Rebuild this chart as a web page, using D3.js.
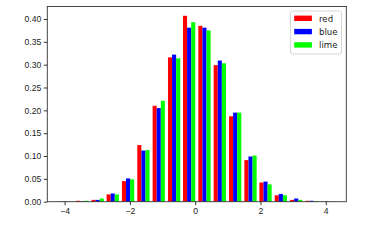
<!DOCTYPE html>
<html>
<head>
<meta charset="utf-8">
<script src="https://cdn.jsdelivr.net/npm/d3@7"></script>
<style>
  body { margin: 0; background: #fff; }
  svg { display: block; font-family: "DejaVu Sans", sans-serif; }
  .tick text { font-size: 8.6px; fill: #222; }
  .tick line { stroke: #333; }
</style>
</head>
<body>
<div id="chart"></div>
<script>
// bin edges (18 bins)
const binEdges = [-4.16, -3.69, -3.22, -2.76, -2.29, -1.82, -1.35, -0.88, -0.42, 0.05,
                  0.52, 0.99, 1.46, 1.92, 2.39, 2.86, 3.33, 3.80, 4.26];
const seriesNames = ["red", "blue", "lime"];
const seriesColors = ["#ff0000", "#0000ff", "#00ff00"];
const redValues  = [0.001, 0.002, 0.004, 0.016, 0.045, 0.124, 0.210, 0.316, 0.407, 0.385, 0.299, 0.187, 0.091, 0.042, 0.014, 0.004, 0.002, 0.0005];
const blueValues = [0.0005, 0.001, 0.004, 0.018, 0.051, 0.112, 0.205, 0.322, 0.381, 0.381, 0.309, 0.195, 0.099, 0.044, 0.017, 0.007, 0.002, 0.0005];
const limeValues = [0.0005, 0.002, 0.007, 0.016, 0.049, 0.113, 0.221, 0.314, 0.393, 0.375, 0.303, 0.195, 0.101, 0.038, 0.014, 0.004, 0.0015, 0.0005];
const xTicks = [-4, -2, 0, 2, 4];
const yTicks = [0, 0.05, 0.10, 0.15, 0.20, 0.25, 0.30, 0.35, 0.40];

const width = 376, height = 243;
const margin = { left: 47.3, right: 346.3, top: 6.5, bottom: 201.7 };

const svg = d3.select("#chart").append("svg").attr("width", width).attr("height", height);

const series = [redValues, blueValues, limeValues];
const dx = binEdges[1] - binEdges[0];
const lo = binEdges[0] + 0.1 * dx, hi = binEdges[binEdges.length - 1] - 0.1 * dx;
const pad = 0.05 * (hi - lo);

const x = d3.scaleLinear().domain([lo - pad, hi + pad]).range([margin.left, margin.right]);
const yMax = d3.max(series, s => d3.max(s));
const y = d3.scaleLinear().domain([0, yMax * 1.05]).range([margin.bottom, margin.top]);

// bars: each bin gets 3 bars filling 80% of its width
const barW = 0.8 * dx / 3;
series.forEach(function(vals, si) {
    svg.append("g").selectAll("rect")
        .data(vals)
        .enter()
        .append("rect")
        .attr("x", (d, i) => x(binEdges[i] + 0.1 * dx + si * barW))
        .attr("width", (d, i) => x(binEdges[i] + 0.1 * dx + (si + 1) * barW) - x(binEdges[i] + 0.1 * dx + si * barW))
        .attr("y", d => y(d))
        .attr("height", d => y(0) - y(d))
        .attr("fill", seriesColors[si]);
});

// axes
const xAxis = svg.append("g").attr("transform", "translate(0," + margin.bottom + ")")
    .call(d3.axisBottom(x).tickValues(xTicks).tickSize(3.5).tickPadding(2.5).tickFormat(d3.format("d")));
xAxis.select(".domain").remove();

const yAxis = svg.append("g").attr("transform", "translate(" + margin.left + ",0)")
    .call(d3.axisLeft(y).tickValues(yTicks).tickSize(3.5).tickPadding(2.5).tickFormat(d3.format(".2f")));
yAxis.select(".domain").remove();

// frame
svg.append("rect")
    .attr("x", margin.left).attr("y", margin.top)
    .attr("width", margin.right - margin.left).attr("height", margin.bottom - margin.top)
    .attr("fill", "none").attr("stroke", "#333").attr("stroke-width", 0.9);

// legend
const lg = svg.append("g").attr("transform", "translate(290.5,11)");
lg.append("rect").attr("width", 51).attr("height", 43).attr("rx", 2)
    .attr("fill", "#fff").attr("fill-opacity", 0.8).attr("stroke", "#ccc").attr("stroke-width", 0.8);
seriesNames.forEach(function(name, i) {
    lg.append("rect").attr("x", 3.7).attr("y", 4.6 + i * 13.3).attr("width", 17.7).attr("height", 5.4)
        .attr("fill", seriesColors[i]);
    lg.append("text").attr("x", 28.5).attr("y", 10.5 + i * 13.3)
        .attr("font-size", "8.6px").attr("fill", "#222").text(name);
});
</script>
</body>
</html>
